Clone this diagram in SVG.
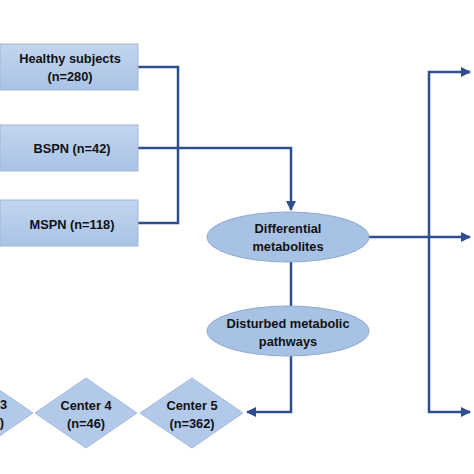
<svg xmlns="http://www.w3.org/2000/svg" width="474" height="474" viewBox="0 0 474 474">
<defs>
<linearGradient id="gb" x1="0" y1="0" x2="0" y2="1">
<stop offset="0" stop-color="#c3d5ee"/>
<stop offset="1" stop-color="#a9c3e6"/>
</linearGradient>
<marker id="ah" viewBox="0 0 10 10" refX="9" refY="5" markerWidth="4" markerHeight="4" orient="auto" markerUnits="strokeWidth">
<path d="M0,0 L10,5 L0,10 z" fill="#2f4e8e"/>
</marker>
</defs>
<style>
.box{fill:url(#gb);stroke:#9fb6d6;stroke-width:1}
.ell{fill:#a8c2e6;stroke:#8fa8cf;stroke-width:1}
.dia{fill:#b2c9ea;stroke:#a3bbdc;stroke-width:1}
.t{font-family:"Liberation Sans",Arial,sans-serif;font-weight:bold;font-size:12.8px;fill:#111;text-anchor:middle}
.c{fill:none;stroke:#2f4e8e;stroke-width:2.5}
</style>
<rect width="474" height="474" fill="#fff"/>
<g id="connectors">
<polyline class="c" points="138,67 178,67 178,223 138,223"/>
<polyline class="c" points="138,148 291,148 291,210" marker-end="url(#ah)"/>
<line class="c" x1="291" y1="262" x2="291" y2="306"/>
<polyline class="c" points="291,356 291,412 247,412" marker-end="url(#ah)"/>
<line class="c" x1="368" y1="237" x2="470" y2="237" marker-end="url(#ah)"/>
<polyline class="c" points="470,72 429,72 429,412 470,412"/>
<line class="c" x1="460" y1="72" x2="470" y2="72" marker-end="url(#ah)"/>
<line class="c" x1="460" y1="412" x2="470" y2="412" marker-end="url(#ah)"/>
</g>
<g id="healthy">
<rect class="box" x="0" y="44" width="138" height="46"/>
<text class="t" x="70" y="63">Healthy subjects</text>
<text class="t" x="70" y="81">(n=280)</text>
</g>
<g id="bspn">
<rect class="box" x="0" y="125" width="138" height="46"/>
<text class="t" x="72" y="153">BSPN (n=42)</text>
</g>
<g id="mspn">
<rect class="box" x="0" y="200" width="138" height="46"/>
<text class="t" x="72" y="229">MSPN (n=118)</text>
</g>
<g id="differential">
<ellipse class="ell" cx="288" cy="237" rx="81" ry="25"/>
<text class="t" x="288" y="233">Differential</text>
<text class="t" x="288" y="251">metabolites</text>
</g>
<g id="disturbed">
<ellipse class="ell" cx="288" cy="331" rx="81" ry="25"/>
<text class="t" x="288" y="328">Disturbed metabolic</text>
<text class="t" x="288" y="346">pathways</text>
</g>
<g id="center3">
<polygon class="dia" points="-70,413 -18,378 33,413 -18,448"/>
<text class="t" x="7" y="409" style="text-anchor:end">3</text>
<text class="t" x="4" y="427" style="text-anchor:end">)</text>
</g>
<g id="center4">
<polygon class="dia" points="35,413 86,378 137,413 86,448"/>
<text class="t" x="86" y="410">Center 4</text>
<text class="t" x="86" y="428">(n=46)</text>
</g>
<g id="center5">
<polygon class="dia" points="140,413 192,378 243,413 192,448"/>
<text class="t" x="192" y="410">Center 5</text>
<text class="t" x="192" y="428">(n=362)</text>
</g>
</svg>
